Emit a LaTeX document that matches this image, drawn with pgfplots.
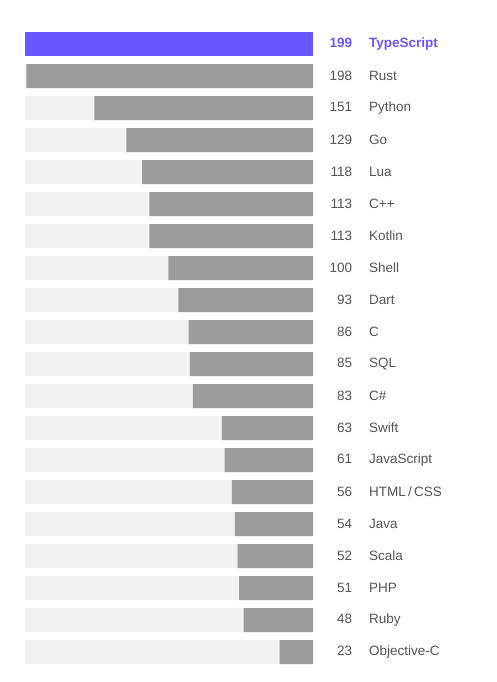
\documentclass[border=0pt]{standalone}
\usepackage{pgfplots}
\pgfplotsset{compat=1.18}
\usepackage{pgfplotstable}
\usepackage{fontspec}
\setmainfont{Liberation Sans}
\definecolor{hl}{HTML}{6B57FF}
\definecolor{barg}{HTML}{9C9C9C}
\definecolor{bgg}{HTML}{F2F2F2}
\definecolor{txt}{HTML}{555555}
\newcommand\lab[2]{\makebox[39bp][r]{#1}\hspace{17bp}#2}

% row = position from top, val = value
\pgfplotstableread{
row val
1 198
2 151
3 129
4 118
5 113
6 113
7 100
8 93
9 86
10 85
11 83
12 63
13 61
14 56
15 54
16 52
17 51
18 48
19 23
}\langs

\begin{document}
\begin{tikzpicture}
\path[use as bounding box] (0,0) rectangle (497bp,682bp);
\begin{axis}[
    at={(25bp,14bp)}, anchor=south west,
    scale only axis,
    width=288bp, height=640bp,
    x dir=reverse, y dir=reverse,
    xmin=0, xmax=199,
    ymin=-0.5, ymax=19.5,
    axis line style={draw=none},
    xtick=\empty,
    ytick={0,...,19},
    major tick length=0pt,
    yticklabel pos=right,
    y tick label style={anchor=west, inner sep=0pt, font=\fontsize{13.5bp}{16bp}\selectfont, text=txt},
    yticklabels={
        {\textcolor{hl}{\bfseries\lab{199}{TypeScript}}},
        \lab{198}{Rust}, \lab{151}{Python}, \lab{129}{Go}, \lab{118}{Lua},
        \lab{113}{C++}, \lab{113}{Kotlin}, \lab{100}{Shell}, \lab{93}{Dart},
        \lab{86}{C}, \lab{85}{SQL}, \lab{83}{C\#}, \lab{63}{Swift},
        \lab{61}{JavaScript}, \lab{56}{HTML\,/\,CSS}, \lab{54}{Java},
        \lab{52}{Scala}, \lab{51}{PHP}, \lab{48}{Ruby}, \lab{23}{Objective-C}
    },
    xbar, bar width=24bp, bar shift=0pt,
]
% background tracks
\addplot[fill=bgg, draw=none] table[x expr=199, y=row] {
row
0
1
2
3
4
5
6
7
8
9
10
11
12
13
14
15
16
17
18
19
};
\addplot[fill=barg, draw=none] table[x=val, y=row] {\langs};
\addplot[fill=hl, draw=none] coordinates {(199,0)};
\end{axis}
\end{tikzpicture}
\end{document}
